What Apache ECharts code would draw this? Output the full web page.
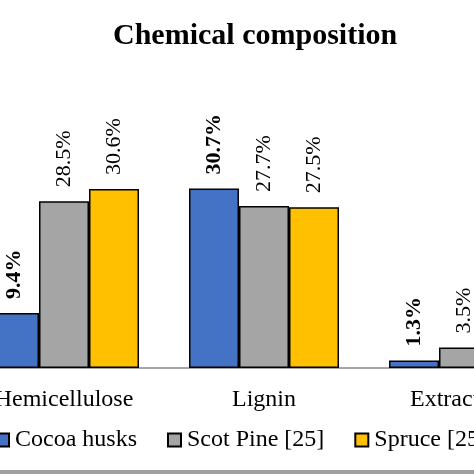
<!DOCTYPE html>
<html>
<head>
<meta charset="utf-8">
<script src="https://cdn.jsdelivr.net/npm/echarts@6/dist/echarts.min.js"></script>
<style>
  html, body { margin: 0; padding: 0; background: #fff; overflow: hidden; }
  #wrap { position: relative; width: 474px; height: 474px; overflow: hidden; }
  #chart { position: absolute; left: -36px; top: 0; width: 600px; height: 474px; }
</style>
</head>
<body>
<div id="wrap"><div id="chart"></div></div>
<script>
var categories = ['Hemicellulose', 'Lignin', 'Extractives'];
var cocoaHusks = [9.4, 30.7, 1.3];
var scotPine = [28.5, 27.7, 3.5];
var spruce = [30.6, 27.5, 2.1];

var serif = '"Liberation Serif", "Times New Roman", serif';

function pct(p) {
    return p.value.toFixed(1) + '%';
}

function barLabel(bold) {
    return {
        show: true,
        position: 'top',
        rotate: 90,
        align: 'left',
        verticalAlign: 'middle',
        distance: 14,
        fontFamily: serif,
        fontSize: 22,
        fontWeight: bold ? 'bold' : 'normal',
        color: '#000',
        formatter: pct
    };
}

var myChart = echarts.init(document.getElementById('chart'));
var option = {
    animation: false,
    title: {
        text: 'Chemical composition',
        left: 144,
        top: 16,
        textStyle: {
            fontFamily: serif,
            fontSize: 30,
            fontWeight: 'bold',
            color: '#000'
        }
    },
    legend: {
        data: ['Cocoa husks', 'Scot Pine [25]', 'Spruce [25]'],
        left: 26,
        top: 423,
        icon: 'rect',
        itemWidth: 13,
        itemHeight: 13,
        itemGap: 30,
        textStyle: {
            fontFamily: serif,
            fontSize: 24,
            color: '#000',
            padding: [0, 0, 0, 1]
        }
    },
    grid: {
        left: 0,
        right: 0,
        top: 134,
        bottom: 106,
        containLabel: false
    },
    xAxis: {
        type: 'category',
        data: categories,
        axisTick: { show: false },
        axisLine: { lineStyle: { color: '#a6a6a6', width: 2 } },
        axisLabel: {
            fontFamily: serif,
            fontSize: 24,
            color: '#000',
            margin: 20
        }
    },
    yAxis: {
        type: 'value',
        min: 0,
        max: 40,
        show: false,
        splitLine: { show: false }
    },
    series: [
        {
            name: 'Cocoa husks',
            type: 'bar',
            data: cocoaHusks,
            barGap: '0%',
            barCategoryGap: '25%',
            itemStyle: { color: '#4472c4', borderColor: '#000', borderWidth: 1.5 },
            label: barLabel(true)
        },
        {
            name: 'Scot Pine [25]',
            type: 'bar',
            data: scotPine,
            itemStyle: { color: '#a5a5a5', borderColor: '#000', borderWidth: 1.5 },
            label: barLabel(false)
        },
        {
            name: 'Spruce [25]',
            type: 'bar',
            data: spruce,
            itemStyle: { color: '#ffc000', borderColor: '#000', borderWidth: 1.5 },
            label: barLabel(false)
        }
    ],
    graphic: [
        {
            type: 'rect',
            shape: { x: -20, y: -20, width: 640, height: 492 },
            style: { fill: 'none', stroke: '#a0a0a0', lineWidth: 4 },
            silent: true
        }
    ]
};
myChart.setOption(option);
</script>
</body>
</html>
